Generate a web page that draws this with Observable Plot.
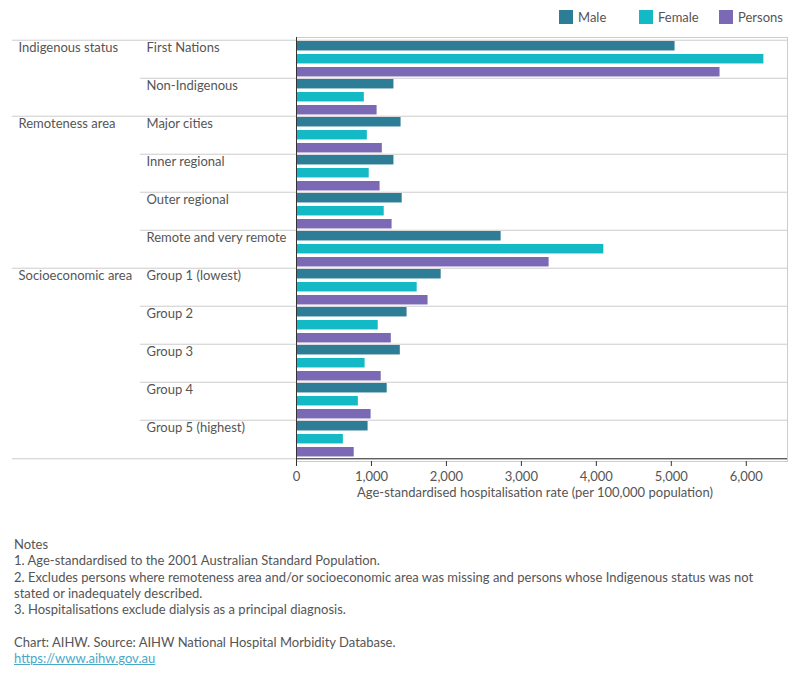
<!DOCTYPE html>
<html><head><meta charset="utf-8">
<script src="https://cdn.jsdelivr.net/npm/d3@7"></script>
<script src="https://cdn.jsdelivr.net/npm/@observablehq/plot@0.6"></script>
<style>
body{margin:0;background:#fff;font-family:Lato,"Noto Sans",sans-serif;color:#555;}
#legend{height:30px;position:relative;}
.item{position:absolute;top:10px;display:flex;align-items:center;font-size:13px;line-height:14px;}
.sw{width:14px;height:14px;margin-right:5px;}
#chart svg{display:block;}
#notes{padding:26px 0 0 14px;font-size:13px;line-height:16.3px;width:760px;}
#notes p{margin:0;}
a{color:#4aa8c8;}
</style></head><body>
<div id="legend"></div><div id="chart"></div><div id="notes"></div>
<script>
const series = ["Male", "Female", "Persons"];
const seriesColors = ["#2d7d97", "#13b9c5", "#7b69b5"];
const categories = ["First Nations", "Non-Indigenous", "Major cities", "Inner regional", "Outer regional", "Remote and very remote", "Group 1 (lowest)", "Group 2", "Group 3", "Group 4", "Group 5 (highest)"];
const categoryGroup = ["Indigenous status", "Indigenous status", "Remoteness area", "Remoteness area", "Remoteness area", "Remoteness area", "Socioeconomic area", "Socioeconomic area", "Socioeconomic area", "Socioeconomic area", "Socioeconomic area"];
const male = [5050, 1300, 1395, 1300, 1410, 2730, 1930, 1475, 1385, 1210, 955];
const female = [6235, 905, 945, 970, 1170, 4100, 1610, 1090, 915, 825, 625];
const persons = [5650, 1075, 1145, 1115, 1275, 3370, 1755, 1265, 1130, 995, 770];
const xTicks = [0, 1000, 2000, 3000, 4000, 5000, 6000];
const xLabel = "Age-standardised hospitalisation rate (per 100,000 population)";
const notes = [
  "Notes",
  "1. Age-standardised to the 2001 Australian Standard Population.",
  "2. Excludes persons where remoteness area and/or socioeconomic area was missing and persons whose Indigenous status was not stated or inadequately described.",
  "3. Hospitalisations exclude dialysis as a principal diagnosis."
];
const source = "Chart: AIHW. Source: AIHW National Hospital Morbidity Database.";
const link = "https://www.aihw.gov.au";

// legend
const legendX = [559, 639, 719];
const leg = document.getElementById("legend");
series.forEach((s, i) => {
  const it = document.createElement("div");
  it.className = "item";
  it.style.left = legendX[i] + "px";
  it.innerHTML = `<div class="sw" style="background:${seriesColors[i]}"></div><span>${s}</span>`;
  leg.appendChild(it);
});

const W = 800, H = 480, mT = 7, mB = 49, mL = 296, mR = 13;
const rowH = (H - mT - mB) / categories.length;
const rows = categories.map((c, i) => ({category: c, group: categoryGroup[i], first: i === 0 || categoryGroup[i] !== categoryGroup[i - 1]}));
const vals = {Male: male, Female: female, Persons: persons};
const bars = categories.flatMap((c, i) => series.map(s => ({category: c, series: s, value: vals[s][i]})));
const barH = 10, barStep = 13, barTop = 1;

const chart = Plot.plot({
  width: W, height: H,
  marginTop: mT, marginBottom: mB, marginLeft: mL, marginRight: mR,
  style: {fontFamily: "Lato, 'Noto Sans', sans-serif", fontSize: "13px", color: "#555", background: "#fff"},
  x: {domain: [0, 6550], axis: null},
  y: {domain: categories, type: "band", padding: 0, axis: null},
  color: {domain: series, range: seriesColors},
  marks: [
    Plot.frame({stroke: "#ccc"}),
    Plot.ruleY(rows.filter(r => r.first), {y: "category", dy: -rowH / 2, insetLeft: -284, stroke: "#ccc"}),
    Plot.ruleY(rows.filter(r => !r.first), {y: "category", dy: -rowH / 2, insetLeft: -156, stroke: "#ccc"}),
    Plot.ruleY(rows.slice(-1), {y: "category", dy: rowH / 2, insetLeft: -284, stroke: "#ccc"}),
    ...series.map((s, k) => Plot.barX(bars.filter(d => d.series === s), {
      y: "category", x: "value", fill: "series",
      insetTop: barTop + k * barStep,
      insetBottom: rowH - (barTop + k * barStep + barH)
    })),
    Plot.ruleY(rows.slice(-1), {y: "category", dy: rowH / 2, stroke: "#333"}),
    Plot.ruleX([0], {stroke: "#333"}),
    Plot.text(rows, {y: "category", text: "category", frameAnchor: "left", dx: -150, dy: -rowH / 2 + 3, textAnchor: "start", lineAnchor: "top", fill: "#555", fontSize: 13}),
    Plot.text(rows.filter(r => r.first), {y: "category", text: "group", frameAnchor: "left", dx: -278, dy: -rowH / 2 + 3, textAnchor: "start", lineAnchor: "top", fill: "#555", fontSize: 13}),
    Plot.axisX(xTicks, {tickFormat: d3.format(","), tickSize: 5, tickPadding: 5, stroke: "#333", fill: "#555", fontSize: 13, label: null}),
    Plot.text([xLabel], {text: d => d, frameAnchor: "bottom", dy: 35, dx: -7, fill: "#555", fontSize: 13})
  ]
});
document.getElementById("chart").appendChild(chart);

const nd = document.getElementById("notes");
notes.forEach(t => { const p = document.createElement("p"); p.textContent = t; nd.appendChild(p); });
const blank = document.createElement("p"); blank.innerHTML = "&nbsp;"; nd.appendChild(blank);
const sp = document.createElement("p"); sp.textContent = source; nd.appendChild(sp);
const lp = document.createElement("p"); lp.innerHTML = `<a href="${link}">${link}</a>`; nd.appendChild(lp);
</script>
</body></html>
